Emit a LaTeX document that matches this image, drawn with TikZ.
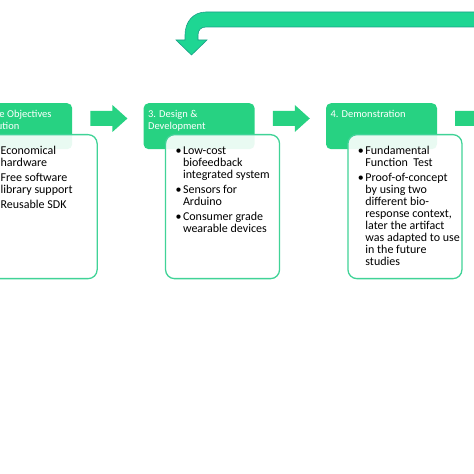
\documentclass[tikz,border=0pt]{standalone}
\usepackage{fontspec}
\setmainfont{Carlito}
\usetikzlibrary{positioning,calc}
\definecolor{hgreen}{HTML}{27D282}
\definecolor{bgreen}{HTML}{40D397}
\definecolor{loopgreen}{HTML}{1ED693}
\definecolor{loopedge}{HTML}{1B9F88}
\def\blockarrow{++(0,7.5) -- ++(22,0) -- ++(0,6) -- ++(15,-13.5) -- ++(-15,-13.5) -- ++(0,6) -- ++(-22,0) -- cycle}
\newcommand{\headtext}[1]{\parbox[t][37pt][t]{102pt}{\raggedright\rule{0pt}{10pt}#1}}
\newcommand{\itemtext}[1]{\parbox[t][122pt][t]{94pt}{\begin{tabular}{@{}l@{\hspace{1.5pt}}l@{}}#1\end{tabular}}}
\tikzset{
  header/.style={fill=hgreen, rounded corners=5pt, text=white, minimum width=111pt,
    minimum height=46pt, inner sep=4.5pt, font=\fontsize{10.5}{12}\selectfont},
  panel/.style={draw=bgreen, line width=1.3pt, fill=white, fill opacity=.9, text opacity=1,
    rounded corners=9pt, minimum width=114pt, minimum height=144pt, inner xsep=10pt,
    inner ysep=11pt, anchor=north west, font=\fontsize{12}{12}\selectfont},
}
\begin{document}
\begin{tikzpicture}[x=1pt,y=1pt]
    \useasboundingbox (0,0) rectangle (474,474);
    \clip (0,0) rectangle (474,474);
    \fill[loopgreen, draw=loopedge, line width=.6pt] (480,462) -- (206,462)
        .. controls (193,462) and (185,452) .. (185,439) -- (185,434) -- (176,434)
        -- (191.5,419) -- (207,434) -- (198,434) -- (198,439)
        .. controls (198,444) and (201,447) .. (206,447) -- (480,447) -- cycle;
    \node[header, anchor=north west] (h2) at (-39,371) {\headtext{2. Define Objectives\\of a Solution}};
    \node[header, right=71pt of h2] (h3) {\headtext{3. Design \&\\Development}};
    \node[header, right=71pt of h3] (h4) {\headtext{4. Demonstration}};
    \coordinate (a23) at ($(h2.north east)+(18,-15.5)$);
    \coordinate (a34) at ($(h3.north east)+(18,-15.5)$);
    \coordinate (a45) at ($(h4.north east)+(18,-15.5)$);
    \fill[hgreen] (a23) \blockarrow;
    \fill[hgreen] (a34) \blockarrow;
    \fill[hgreen] (a45) \blockarrow;
    \node[panel] (b2) at ($(h2.north west)+(21.5,-31)$) {\itemtext{
        \textbullet & Economical\\ & hardware\\[3pt]
        \textbullet & Free software\\ & library support\\[3pt]
        \textbullet & Reusable SDK}};
    \node[panel] (b3) at ($(h3.north west)+(21.5,-31)$) {\itemtext{
        \textbullet & Low-cost\\ & biofeedback\\ & integrated system\\[3pt]
        \textbullet & Sensors for\\ & Arduino\\[3pt]
        \textbullet & Consumer grade\\ & wearable devices}};
    \node[panel] (b4) at ($(h4.north west)+(21.5,-31)$) {\itemtext{
        \textbullet & Fundamental\\ & Function~ Test\\[3pt]
        \textbullet & Proof-of-concept\\ & by using two\\ & different bio-\\
        & response context,\\ & later the artifact\\ & was adapted to use\\
        & in the future\\ & studies}};
\end{tikzpicture}
\end{document}
